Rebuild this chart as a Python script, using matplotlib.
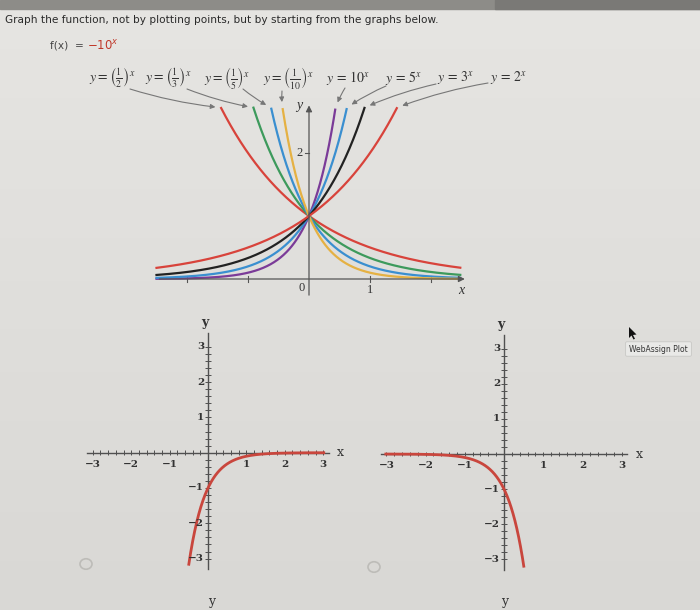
import numpy as np
import matplotlib
matplotlib.use('Agg')
import matplotlib.pyplot as plt
from matplotlib.patches import Rectangle, Circle, Polygon, FancyBboxPatch

W, H = 700, 610

# bases of the reference curves (top picture), their colours and labels
bases = [1/2, 1/3, 1/5, 1/10, 10, 5, 3, 2]
colors = ["#d8433b", "#3d9a5c", "#3a8fd0", "#e5b143", "#7b3b98", "#3a8fd0", "#222222", "#d8433b"]
labels = [r"$y=\left(\frac{1}{2}\right)^x$", r"$y=\left(\frac{1}{3}\right)^x$",
          r"$y=\left(\frac{1}{5}\right)^x$", r"$y=\left(\frac{1}{10}\right)^x$",
          r"$y\,=\,10^x$", r"$y\,=\,5^x$", r"$y\,=\,3^x$", r"$y\,=\,2^x$"]
label_pos = [(112, 78), (168, 78), (227, 78), (288, 78), (348, 78), (403, 78), (455, 78), (508, 78)]
arrow_tail = [(130, 89), (187, 89), (243, 89), (282, 91), (345, 88), (386, 86), (436, 84), (488, 83)]
x_range = (-2.5, 2.48)
y_top = 2.72

# answer choices: f(x) = -10^(-x) and f(x) = -10^x
choice_bases = [1/10, 10]
choice_ranges = [(-0.505, 3.05), (-3.05, 0.51)]
tick_vals = [-3, -2, -1, 1, 2, 3]
tick_text = ["\u22123", "\u22122", "\u22121", "1", "2", "3"]

plt.rcParams['mathtext.fontset'] = 'stix'

fig = plt.figure(figsize=(W/100, H/100), dpi=100)
fig.patch.set_facecolor('#dfdedb')

# background gradient
bg = fig.add_axes([0, 0, 1, 1])
bg.imshow(np.linspace(0, 1, 100).reshape(-1, 1), cmap=matplotlib.colors.LinearSegmentedColormap.from_list(
    'bg', ['#e6e5e2', '#d9d8d5']), aspect='auto', extent=[0, 1, 0, 1])
bg.set_xlim(0, 1)
bg.set_ylim(0, 1)
bg.axis('off')
bg.add_patch(Rectangle((0, 1 - 9/H), 1, 9/H, color='#8d8c88', transform=bg.transAxes))
bg.add_patch(Rectangle((495/W, 1 - 9/H), 1, 9/H, color='#7a7976', transform=bg.transAxes))


def px(x, y):
    return x / W, 1 - y / H


def make_axes(ox, oy, ux, uy, xlim, ylim):
    left = ox + xlim[0]*ux
    right = ox + xlim[1]*ux
    top = oy - ylim[1]*uy
    bottom = oy - ylim[0]*uy
    ax = fig.add_axes([left/W, 1 - bottom/H, (right-left)/W, (bottom-top)/H])
    ax.set_xlim(xlim)
    ax.set_ylim(ylim)
    ax.axis('off')
    ax.patch.set_alpha(0)
    return ax


fig.text(*px(5, 20), "Graph the function, not by plotting points, but by starting from the graphs below.",
         fontsize=7.6, color='#2a2a2a', va='center', family='DejaVu Sans')
fig.text(*px(50, 46), "f(x)  =", fontsize=7.6, color='#444444', va='center', family='DejaVu Sans')
fig.text(*px(87, 46), r"$-10^x$", fontsize=8.5, color='#c0392b', va='center', math_fontfamily='dejavusans')

# top picture: reference graphs
ax = make_axes(309, 279, 61, 63, (-2.65, 2.8), (-0.35, 3.0))
ax.annotate('', xy=(2.6, 0), xytext=(-2.5, 0),
            arrowprops=dict(arrowstyle='-|>', color='#555555', lw=0.9, mutation_scale=9))
ax.annotate('', xy=(0, 2.8), xytext=(0, -0.3),
            arrowprops=dict(arrowstyle='-|>', color='#555555', lw=0.9, mutation_scale=9))
for t in [-2, -1, 1, 2]:
    ax.plot([t, t], [-0.04, 0.04], color='#555555', lw=0.8)
ax.plot([-0.06, 0.0], [2, 2], color='#555555', lw=0.8)
ax.text(-0.1, 2, "2", fontsize=9, ha='right', va='center', color='#333333', family='Liberation Serif')
ax.text(-0.12, -0.15, "0", fontsize=9, ha='center', va='center', color='#333333', family='Liberation Serif')
ax.text(1.0, -0.17, "1", fontsize=9, ha='center', va='center', color='#333333', family='Liberation Serif')
ax.text(2.5, -0.19, "x", fontsize=10, ha='center', va='center', color='#333333', style='italic',
        family='Liberation Serif')
ax.text(-0.16, 2.75, "y", fontsize=10, ha='center', va='center', color='#333333', style='italic',
        family='Liberation Serif')

xs = np.linspace(x_range[0], x_range[1], 800)
for b, c, lab, lp, tail in zip(bases, colors, labels, label_pos, arrow_tail):
    ys = b ** xs
    ys = np.where(ys <= y_top, ys, np.nan)
    ax.plot(xs, ys, color=c, lw=1.6)
    x_tip = np.log(y_top) / np.log(b)
    fig.text(*px(*lp), lab, fontsize=10, ha='center', va='center', color='#333333')
    ax.annotate('', xy=(x_tip, y_top), xycoords='data', xytext=(tail[0], H - tail[1]),
                textcoords='figure pixels',
                arrowprops=dict(arrowstyle='-|>', color='#777777', lw=0.8, mutation_scale=7,
                                shrinkA=0, shrinkB=4, connectionstyle='arc3,rad=0.05'))


# answer choice graphs
def choice(ox, oy, ux, uy, b, xr):
    a = make_axes(ox, oy, ux, uy, (-3.5, 3.7), (-3.6, 4.0))
    ln = '#505050'
    a.plot([-3.15, 3.15], [0, 0], color=ln, lw=1.0)
    a.plot([0, 0], [-3.3, 3.4], color=ln, lw=1.0)
    minor = np.round(np.arange(-3.0, 3.01, 0.2), 2)
    a.vlines(minor, -0.07, 0.07, color=ln, lw=0.7)
    a.hlines(minor, -0.07, 0.07, color=ln, lw=0.7)
    for v, s in zip(tick_vals, tick_text):
        a.text(v, -0.33, s, fontsize=7.5, ha='center', va='center', color='#333333',
               family='DejaVu Serif', weight='bold')
        a.text(-0.1, v, s, fontsize=7.5, ha='right', va='center', color='#333333',
               family='DejaVu Serif', weight='bold')
    a.text(3.45, 0, "x", fontsize=9, ha='center', va='center', color='#333333', family='DejaVu Serif')
    a.text(-0.08, 3.7, "y", fontsize=9, ha='center', va='center', color='#333333', family='DejaVu Serif',
           weight='bold')
    cx = np.linspace(xr[0], xr[1], 600)
    a.plot(cx, -(b ** cx), color='#c9463d', lw=2.0, solid_capstyle='butt')


choice(208, 452.7, 38.4, 35.3, choice_bases[0], choice_ranges[0])
choice(504, 454, 39.2, 35.1, choice_bases[1], choice_ranges[1])

# radio buttons, cut-off labels of the next row
for cx_, cy_ in [(86, 564), (374, 567)]:
    bg.add_patch(Circle(px(cx_, cy_), 6/W, transform=bg.transAxes, fill=False, ec='#bdbcb8', lw=1.2))
fig.text(*px(212, 601), "y", fontsize=9, ha='center', va='center', color='#333333', family='DejaVu Serif')
fig.text(*px(505, 601), "y", fontsize=9, ha='center', va='center', color='#333333', family='DejaVu Serif')

# tooltip and cursor
bg.add_patch(FancyBboxPatch(px(627, 355), 63/W, 12/H, boxstyle='round,pad=0.002', transform=bg.transAxes,
                            fc='#e9e9e7', ec='#c8c8c5', lw=0.6))
fig.text(*px(658.5, 349), "WebAssign Plot", fontsize=5.5, ha='center', va='center', color='#333333')
cur = np.array([(629, 327), (629, 338), (631.5, 335.5), (633.5, 339.5), (635, 338.8), (633, 335), (636.5, 334.5)])
bg.add_patch(Polygon([px(x, y) for x, y in cur], closed=True, transform=bg.transAxes, fc='#111111', ec='none'))

fig.savefig('out.png', dpi=100)
